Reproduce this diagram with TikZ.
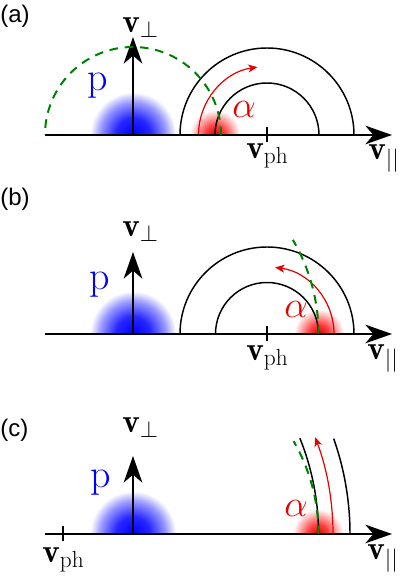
\documentclass[tikz,border=0pt]{standalone}
\usepackage{fix-cm}
\usepackage{fontspec}
\newfontfamily\panelfont{Liberation Sans}
\usetikzlibrary{arrows.meta}

\pgfdeclareradialshading{pblob}{\pgfpoint{0bp}{0bp}}{color(0bp)=(blue); color(10bp)=(blue!85!white); color(19bp)=(blue!40!white); color(25bp)=(white); color(50bp)=(white)}
\pgfdeclareradialshading{ablob}{\pgfpoint{0bp}{0bp}}{color(0bp)=(red!85!black); color(10bp)=(red!75!white); color(19bp)=(red!30!white); color(25bp)=(white); color(50bp)=(white)}

\tikzset{
	axisline/.style={line width=1.5pt,-{Stealth[length=20pt,width=14pt,inset=6pt]}},
	shell/.style={line width=1.1pt},
	orbit/.style={line width=0.9pt,red!90!black,-{Stealth[length=7pt,width=6pt,inset=2pt]}},
	wave/.style={line width=1.5pt,green!50!black,dash pattern=on 6.5pt off 5pt},
	vlabel/.style={inner sep=0pt,anchor=base west,font=\fontsize{25}{28}\selectfont},
	plabel/.style={vlabel,blue,font=\fontsize{30}{33}\selectfont},
	alabel/.style={vlabel,red!90!black,font=\fontsize{28}{30}\selectfont},
	panel/.style={inner sep=0pt,anchor=west,font=\panelfont\fontsize{18}{20}\selectfont}
}

\begin{document}
\begin{tikzpicture}[x=0.75pt,y=0.75pt]

		\useasboundingbox (0,0) rectangle (400,578);

		%Panel labels
		\node[panel] (labA) at (0,562) {(a)};
		\node[panel] (labB) at (0,379) {(b)};
		\node[panel] (labC) at (0,148) {(c)};

		%(a) trapped alpha, small resonance circle
		\begin{scope}[shift={(133,443)}]
			%Distributions
			\begin{scope}
				\clip (-44,0) rectangle (44,45);
				\shade[shading=pblob] (0,0) circle (43);
			\end{scope}
			\begin{scope}
				\clip (56,0) rectangle (108,27);
				\shade[shading=ablob] (82,0) circle (25);
			\end{scope}

			%Shells round v_ph
			\draw[shell] (221,0) arc (0:180:87);
			\draw[shell] (186,0) arc (0:180:52);
			\draw[orbit] (65.5,0) arc (180:98:68.5);

			%Axes
			\coordinate (xlA) at (-88,0);
			\coordinate (xrA) at (259,0);
			\coordinate (oA) at (0,0);
			\coordinate (ytA) at (0,98);
			\draw[axisline] (xlA) -- (xrA);
			\draw[axisline] (oA) -- (ytA);
			\draw[line width=1.1pt] (134,-7) -- (134,8);

			%Resonance circle
			\draw[wave] (88,0) arc (0:180:88);

			\node[vlabel] (vperpA) at (-11,102) {$\mathbf{v}_{\perp}$};
			\node[vlabel] (vparA) at (235,-25) {$\mathbf{v}_{||}$};
			\node[vlabel] (vphA) at (113,-24) {$\mathbf{v}_{\mathrm{ph}}$};
			\node[plabel] (pA) at (-46,44) {p};
			\node[alabel] (alphaA) at (99,17) {$\alpha$};
		\end{scope}

		%(b) alpha on the far side of v_ph
		\begin{scope}[shift={(133,244)}]
			%Distributions
			\begin{scope}
				\clip (-44,0) rectangle (44,45);
				\shade[shading=pblob] (0,0) circle (43);
			\end{scope}
			\begin{scope}
				\clip (160,0) rectangle (212,27);
				\shade[shading=ablob] (186,0) circle (25);
			\end{scope}

			%Shells round v_ph
			\draw[shell] (221,0) arc (0:180:87);
			\draw[shell] (185.5,0) arc (0:180:51.5);
			\draw[orbit] (201,0) arc (0:83:67);

			%Axes
			\coordinate (xlB) at (-88,0);
			\coordinate (xrB) at (259,0);
			\coordinate (oB) at (0,0);
			\coordinate (ytB) at (0,82);
			\draw[axisline] (xlB) -- (xrB);
			\draw[axisline] (oB) -- (ytB);
			\draw[line width=1.1pt] (134,-7) -- (134,8);

			%Resonance circle
			\draw[wave] (185.5,0) arc (0:30.5:185.5);

			\node[vlabel] (vperpB) at (-11,97) {$\mathbf{v}_{\perp}$};
			\node[vlabel] (vparB) at (234,-26) {$\mathbf{v}_{||}$};
			\node[vlabel] (vphB) at (113,-27) {$\mathbf{v}_{\mathrm{ph}}$};
			\node[plabel] (pB) at (-44,44) {p};
			\node[alabel] (alphaB) at (151,16) {$\alpha$};
		\end{scope}

		%(c) v_ph far to the left
		\begin{scope}[shift={(133,44)}]
			%Distributions
			\begin{scope}
				\clip (-44,0) rectangle (44,45);
				\shade[shading=pblob] (0,0) circle (43);
			\end{scope}
			\begin{scope}
				\clip (159,0) rectangle (211,27);
				\shade[shading=ablob] (185,0) circle (25);
			\end{scope}

			%Shells round v_ph
			\draw[shell] (217,0) arc (0:19.4:287);
			\draw[shell] (185.5,0) arc (0:22:255.5);
			\draw[orbit] (200,0) arc (0:21:270);

			%Axes
			\coordinate (xlC) at (-88,0);
			\coordinate (xrC) at (259,0);
			\coordinate (oC) at (0,0);
			\coordinate (ytC) at (0,78);
			\draw[axisline] (xlC) -- (xrC);
			\draw[axisline] (oC) -- (ytC);
			\draw[line width=1.1pt] (-70,-7) -- (-70,8);

			%Resonance circle
			\draw[wave] (185.5,0) arc (0:30:185.5);

			\node[vlabel] (vperpC) at (-11,101) {$\mathbf{v}_{\perp}$};
			\node[vlabel] (vparC) at (234,-26) {$\mathbf{v}_{||}$};
			\node[vlabel] (vphC) at (-91,-28) {$\mathbf{v}_{\mathrm{ph}}$};
			\node[plabel] (pC) at (-43,46) {p};
			\node[alabel] (alphaC) at (151,17) {$\alpha$};
		\end{scope}

	\end{tikzpicture}
\end{document}
